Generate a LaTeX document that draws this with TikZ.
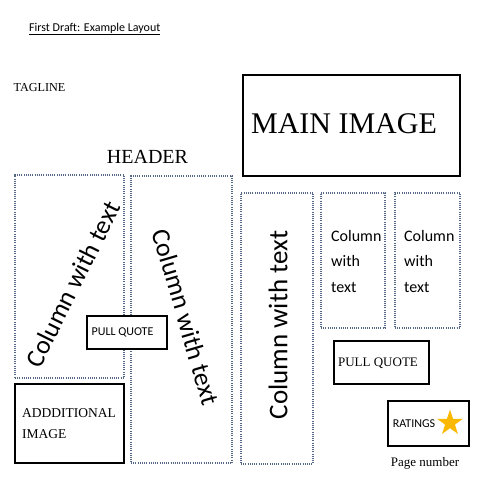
\documentclass[tikz,border=0pt]{standalone}
\usepackage{fontspec}
\setmainfont{Liberation Serif}
\newfontfamily\calib{Carlito}
\usetikzlibrary{shapes.geometric}
\definecolor{dotc}{RGB}{85,105,135}
\definecolor{stargold}{RGB}{250,185,0}
\begin{document}
\begin{tikzpicture}[x=1pt,y=-1pt,
  dotbox/.style={draw=dotc,line width=1.1pt,dash pattern=on 1pt off 1.2pt,anchor=north west,inner sep=0,outer sep=0},
  solidbox/.style={draw=black,line width=1.4pt,fill=white,anchor=north west,inner sep=0,outer sep=0},
  serif/.style={font=\fontsize{#1}{#1}\selectfont,inner sep=0},
  sans/.style={font=\calib\fontsize{#1}{#1}\selectfont,inner sep=0},
  coltext/.style={font=\calib\fontsize{16}{25.5}\selectfont,align=left,inner sep=0,anchor=base west}
]
\useasboundingbox (0,0) rectangle (480,480);
\fill[white] (0,0) rectangle (480,480);

% title
\node[sans=12,anchor=west] (title) at (29,29) {\underline{First Draft: Example Layout}};
\node[serif=12.2] (tagline) at (39.5,88) {TAGLINE};

% main image
\node[solidbox,minimum width=217,minimum height=101] (mainimg) at (243,75) {};
\node[serif=30] (maintxt) at (344,124) {MAIN IMAGE};

\node[serif=20] (header) at (147.5,157) {HEADER};

% dotted columns
\node[dotbox,minimum width=109,minimum height=203] (col1) at (15,175) {};
\node[dotbox,minimum width=101,minimum height=287] (col2) at (131,176) {};
\node[dotbox,minimum width=72,minimum height=271] (col3) at (241,193) {};
\node[dotbox,minimum width=64,minimum height=135] (col4) at (321,193) {};
\node[dotbox,minimum width=65,minimum height=135] (col5) at (395,193) {};

% rotated column texts
\node[sans=26,rotate=63.6] (t1) at (73,284) {Column with text};
\node[sans=26,rotate=-73.6] (t2) at (186,317) {Column with text};
\node[sans=27,rotate=90] (t3) at (278,325) {Column with text};
\node[coltext] (t4) at (331,292) {Column\\with\\text};
\node[coltext] (t5) at (404,292) {Column\\with\\text};

% pull quote 1
\node[solidbox,minimum width=80,minimum height=33] (pq1) at (87,316) {};
\node[sans=12] (pq1txt) at (122.5,332.5) {PULL QUOTE};

% additional image
\node[solidbox,minimum width=109,minimum height=79] (addimg) at (15,384) {};
\node[font=\fontsize{13.5}{21}\selectfont,align=left,inner sep=0,anchor=base west] (addtxt) at (22,438.5) {ADDDITIONAL\\IMAGE};

% pull quote 2
\node[solidbox,minimum width=95,minimum height=43] (pq2) at (334,341) {};
\node[serif=13] (pq2txt) at (378,363) {PULL QUOTE};

% ratings
\node[solidbox,minimum width=81,minimum height=45] (rat) at (388,401) {};
\node[sans=12] (rattxt) at (414,424) {RATINGS};
\node[star,star points=5,star point ratio=2.6,minimum size=27,fill=stargold,inner sep=0] (star) at (450,423) {};

\node[serif=13,anchor=base] (pagenum) at (425,466) {Page number};
\end{tikzpicture}
\end{document}
